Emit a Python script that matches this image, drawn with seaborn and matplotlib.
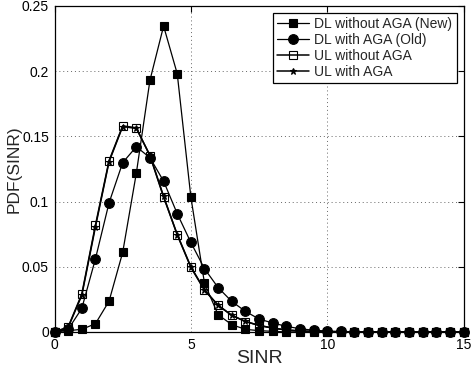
import numpy as np
import pandas as pd
import matplotlib
matplotlib.use("Agg")
import matplotlib.pyplot as plt
import seaborn as sns

sinr = [0, 0.5, 1, 1.5, 2, 2.5, 3, 3.5, 4, 4.5, 5, 5.5, 6, 6.5, 7, 7.5, 8, 8.5, 9, 9.5,
        10, 10.5, 11, 11.5, 12, 12.5, 13, 13.5, 14, 14.5, 15]

dl_without = [0, 0.001, 0.002, 0.0063, 0.0236, 0.061, 0.1217, 0.193, 0.2345, 0.198,
              0.1034, 0.0373, 0.0132, 0.0056, 0.002, 0.001, 0.0005, 0, 0, 0,
              0, 0, 0, 0, 0, 0, 0, 0, 0, 0, 0]
dl_with = [0, 0.002, 0.018, 0.056, 0.099, 0.1298, 0.142, 0.1336, 0.1156, 0.0907,
           0.0686, 0.0485, 0.034, 0.0234, 0.0158, 0.0099, 0.0069, 0.0043, 0.0025, 0.0013,
           0.0007, 0.0004, 0.0002, 0.0001, 0, 0, 0, 0, 0, 0, 0]
ul_without = [0, 0.0038, 0.029, 0.0818, 0.1313, 0.158, 0.1565, 0.135, 0.1034, 0.0747,
              0.050, 0.0323, 0.0203, 0.0127, 0.008, 0.005, 0.003, 0.0015, 0.0008, 0.0004,
              0.0002, 0.0001, 0, 0, 0, 0, 0, 0, 0, 0, 0]
ul_with = [0, 0.0035, 0.028, 0.0805, 0.1305, 0.1575, 0.156, 0.1355, 0.104, 0.0745,
           0.0495, 0.032, 0.0205, 0.0128, 0.0081, 0.005, 0.003, 0.0015, 0.0008, 0.0004,
           0.0002, 0.0001, 0, 0, 0, 0, 0, 0, 0, 0, 0]

labels = ["DL without AGA (New)", "DL with AGA (Old)", "UL without AGA", "UL with AGA"]
x_ticks = [0, 5, 10, 15]
y_ticks = [0, 0.05, 0.1, 0.15, 0.2, 0.25]
y_ticklabels = ["0", "0.05", "0.1", "0.15", "0.2", "0.25"]

sns.set_style("white")
plt.rcParams['font.family'] = ['Liberation Sans', 'DejaVu Sans']

fig = plt.figure(figsize=(4.74, 3.66), dpi=100)
ax = fig.add_axes([0.115, 0.093, 0.863, 0.891])

styles = [
    dict(marker="s", markersize=6, markerfacecolor="black", markeredgecolor="black", linewidth=0.9),
    dict(marker="o", markersize=7, markerfacecolor="black", markeredgecolor="black", linewidth=0.9),
    dict(marker="s", markersize=6, markerfacecolor="none", markeredgecolor="black", linewidth=1.1),
    dict(marker="*", markersize=5, markerfacecolor="black", markeredgecolor="black", linewidth=1.1),
]
series = [dl_without, dl_with, ul_without, ul_with]
for vals, lab, st in zip(series, labels, styles):
    df = pd.DataFrame({"SINR": sinr, "PDF": vals})
    sns.lineplot(data=df, x="SINR", y="PDF", ax=ax, color="black", label=lab,
                 clip_on=False, zorder=3, markeredgewidth=0.8, **st)

ax.set_xlim(0, 15)
ax.set_ylim(0, 0.25)
ax.set_xticks(x_ticks)
ax.set_xticklabels([str(t) for t in x_ticks])
ax.set_yticks(y_ticks)
ax.set_yticklabels(y_ticklabels)
ax.tick_params(direction="in", length=4, width=0.8, labelsize=10, colors="black",
               top=True, right=True, pad=4)
ax.grid(True, linestyle=(0, (1, 3)), color="#666666", linewidth=0.7)
for sp in ax.spines.values():
    sp.set_color("black")
    sp.set_linewidth(0.9)

ax.set_xlabel("SINR", fontsize=14)
ax.set_ylabel("PDF(SINR)", fontsize=12.5)
ax.xaxis.set_label_coords(0.5, -0.055, transform=ax.transAxes)
ax.xaxis.label.set_va("top")
ax.yaxis.set_label_coords(-0.08, 0.5, transform=ax.transAxes)

leg = ax.legend(loc="upper right", fontsize=10, frameon=True, fancybox=False,
                edgecolor="black", framealpha=1, borderpad=0.3, labelspacing=0.15,
                handlelength=2.3, handletextpad=0.4, borderaxespad=0.5)
leg.get_frame().set_linewidth(0.9)

fig.savefig("out.png", dpi=100)
